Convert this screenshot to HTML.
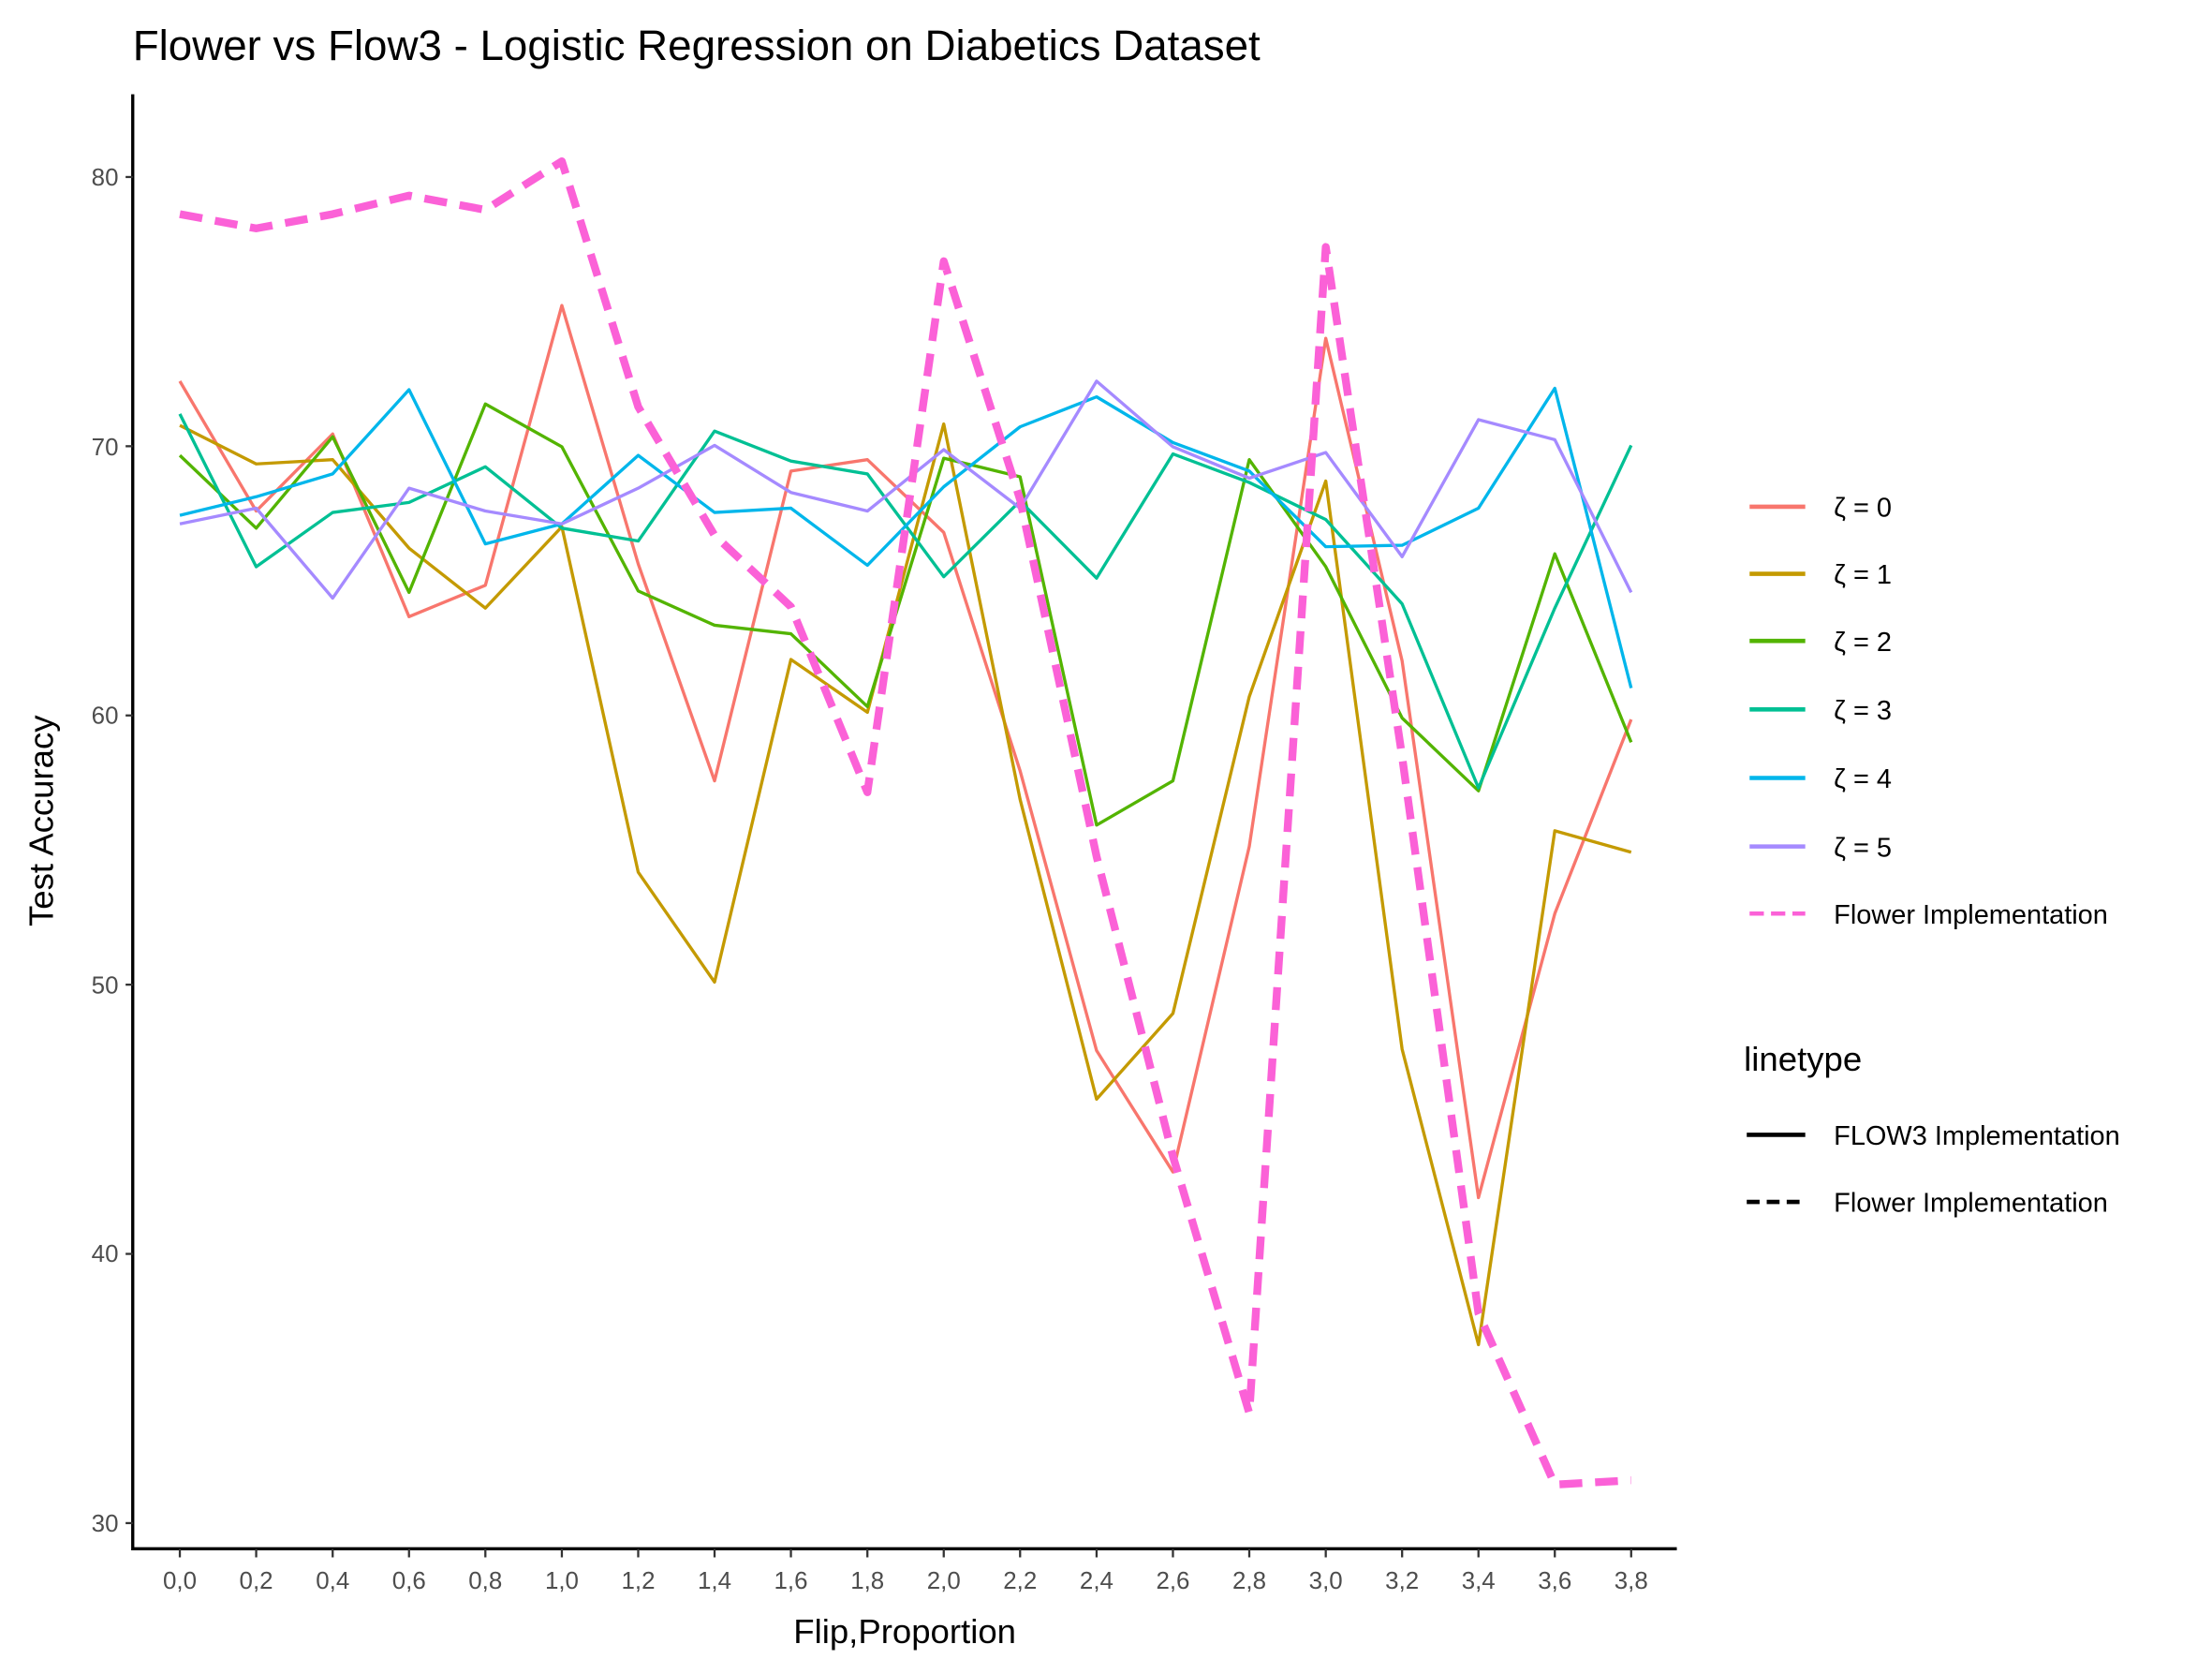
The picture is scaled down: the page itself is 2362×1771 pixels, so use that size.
<!DOCTYPE html>
<html><head><meta charset="utf-8"><style>html,body{margin:0;padding:0;background:#fff}svg{display:block}</style></head>
<body>
<svg width="2362" height="1771" viewBox="0 0 1550 1162.2" xmlns="http://www.w3.org/2000/svg" font-family="Liberation Sans, sans-serif">
<rect width="1550" height="1163" fill="#fff"/>
<text x="93" y="42" font-size="30" fill="#000">Flower vs Flow3 - Logistic Regression on Diabetics Dataset</text>
<g fill="none" stroke-width="2.2" stroke-linejoin="round">
<polyline stroke="#F8766D" points="126,267 179.5,358 233.1,304 286.6,432 340.1,410 393.7,214 447.2,395 500.7,547 554.2,330 607.8,322 661.3,373 714.8,540 768.4,736 821.9,821 875.4,593 929,237 982.5,463 1036,839 1089.5,640 1143,504"/>
<polyline stroke="#C49A00" points="126,298 179.5,325 233.1,322 286.6,384 340.1,426 393.7,369 447.2,611 500.7,688 554.2,462 607.8,499 661.3,297 714.8,560 768.4,770 821.9,710 875.4,488 929,337 982.5,735 1036,942 1089.5,582 1143,597"/>
<polyline stroke="#53B400" points="126,319 179.5,370 233.1,306 286.6,415 340.1,283 393.7,313 447.2,414 500.7,438 554.2,444 607.8,495 661.3,321 714.8,334 768.4,578 821.9,547 875.4,322 929,397 982.5,503 1036,554 1089.5,388 1143,520"/>
<polyline stroke="#00C094" points="126,290 179.5,397 233.1,359 286.6,352 340.1,327 393.7,370 447.2,379 500.7,302 554.2,323 607.8,332 661.3,404 714.8,351 768.4,405 821.9,318 875.4,338 929,364 982.5,423 1036,552 1089.5,426 1143,312"/>
<polyline stroke="#00B6EB" points="126,361 179.5,348 233.1,332 286.6,273 340.1,381 393.7,367 447.2,319 500.7,359 554.2,356 607.8,396 661.3,341 714.8,299 768.4,278 821.9,310 875.4,330 929,383 982.5,382 1036,356 1089.5,272 1143,482"/>
<polyline stroke="#A58AFF" points="126,367 179.5,356 233.1,419 286.6,342 340.1,358 393.7,367 447.2,342 500.7,312 554.2,345 607.8,358 661.3,315 714.8,356 768.4,267 821.9,313 875.4,335 929,317 982.5,390 1036,294 1089.5,308 1143,415"/>
<polyline stroke="#FB61D7" stroke-width="5.5" stroke-dasharray="16,9" points="126,150 179.5,160 233.1,150 286.6,137 340.1,147 393.7,113 447.2,285 500.7,375 554.2,425 607.8,555 661.3,183 714.8,350 768.4,600 821.9,810 875.4,990 929,173 982.5,530 1036,920 1089.5,1040 1143,1037"/>
</g>
<g stroke="#000" stroke-width="2.2" fill="none"><polyline points="93,66 93,1085 1175,1085"/></g>
<g stroke="#333" stroke-width="1.5">
<line x1="88" y1="124" x2="93" y2="124"/><line x1="88" y1="312.6" x2="93" y2="312.6"/><line x1="88" y1="501.2" x2="93" y2="501.2"/><line x1="88" y1="689.8" x2="93" y2="689.8"/><line x1="88" y1="878.4" x2="93" y2="878.4"/><line x1="88" y1="1067" x2="93" y2="1067"/>
</g>
<g font-size="17" fill="#4d4d4d" text-anchor="end">
<text x="83" y="130">80</text><text x="83" y="319">70</text><text x="83" y="507">60</text><text x="83" y="696">50</text><text x="83" y="884">40</text><text x="83" y="1073">30</text>
</g>
<g font-size="17" fill="#4d4d4d" text-anchor="middle">
<text x="126" y="1113">0,0</text><text x="179.5" y="1113">0,2</text><text x="233.1" y="1113">0,4</text><text x="286.6" y="1113">0,6</text><text x="340.1" y="1113">0,8</text><text x="393.7" y="1113">1,0</text><text x="447.2" y="1113">1,2</text><text x="500.7" y="1113">1,4</text><text x="554.2" y="1113">1,6</text><text x="607.8" y="1113">1,8</text><text x="661.3" y="1113">2,0</text><text x="714.8" y="1113">2,2</text><text x="768.4" y="1113">2,4</text><text x="821.9" y="1113">2,6</text><text x="875.4" y="1113">2,8</text><text x="929" y="1113">3,0</text><text x="982.5" y="1113">3,2</text><text x="1036" y="1113">3,4</text><text x="1089.5" y="1113">3,6</text><text x="1143" y="1113">3,8</text>
</g>
<g stroke="#333" stroke-width="1.5">
<line x1="126" y1="1085" x2="126" y2="1091"/><line x1="179.5" y1="1085" x2="179.5" y2="1091"/><line x1="233.1" y1="1085" x2="233.1" y2="1091"/><line x1="286.6" y1="1085" x2="286.6" y2="1091"/><line x1="340.1" y1="1085" x2="340.1" y2="1091"/><line x1="393.7" y1="1085" x2="393.7" y2="1091"/><line x1="447.2" y1="1085" x2="447.2" y2="1091"/><line x1="500.7" y1="1085" x2="500.7" y2="1091"/><line x1="554.2" y1="1085" x2="554.2" y2="1091"/><line x1="607.8" y1="1085" x2="607.8" y2="1091"/><line x1="661.3" y1="1085" x2="661.3" y2="1091"/><line x1="714.8" y1="1085" x2="714.8" y2="1091"/><line x1="768.4" y1="1085" x2="768.4" y2="1091"/><line x1="821.9" y1="1085" x2="821.9" y2="1091"/><line x1="875.4" y1="1085" x2="875.4" y2="1091"/><line x1="929" y1="1085" x2="929" y2="1091"/><line x1="982.5" y1="1085" x2="982.5" y2="1091"/><line x1="1036" y1="1085" x2="1036" y2="1091"/><line x1="1089.5" y1="1085" x2="1089.5" y2="1091"/><line x1="1143" y1="1085" x2="1143" y2="1091"/>
</g>
<text x="634" y="1151" font-size="24" text-anchor="middle">Flip,Proportion</text>
<text transform="translate(37,575) rotate(-90)" font-size="24" text-anchor="middle">Test Accuracy</text>
<g stroke-width="3" fill="none">
<line x1="1226" y1="355" x2="1265" y2="355" stroke="#F8766D"/>
<line x1="1226" y1="402" x2="1265" y2="402" stroke="#C49A00"/>
<line x1="1226" y1="449" x2="1265" y2="449" stroke="#53B400"/>
<line x1="1226" y1="497" x2="1265" y2="497" stroke="#00C094"/>
<line x1="1226" y1="545" x2="1265" y2="545" stroke="#00B6EB"/>
<line x1="1226" y1="593" x2="1265" y2="593" stroke="#A58AFF"/>
<line x1="1226" y1="640" x2="1265" y2="640" stroke="#FB61D7" stroke-dasharray="10,5"/>
<line x1="1224" y1="795" x2="1265" y2="795" stroke="#000"/>
<line x1="1224" y1="842" x2="1265" y2="842" stroke="#000" stroke-dasharray="9,5"/>
</g>
<g font-size="19" fill="#000">
<text x="1285" y="362">ζ  = 0</text><text x="1285" y="409">ζ  = 1</text><text x="1285" y="456">ζ  = 2</text><text x="1285" y="504">ζ  = 3</text><text x="1285" y="552">ζ  = 4</text><text x="1285" y="600">ζ  = 5</text>
<text x="1285" y="647">Flower Implementation</text>
<text x="1222" y="750" font-size="24">linetype</text>
<text x="1285" y="802">FLOW3 Implementation</text>
<text x="1285" y="849">Flower Implementation</text>
</g>
</svg>
</body></html>
